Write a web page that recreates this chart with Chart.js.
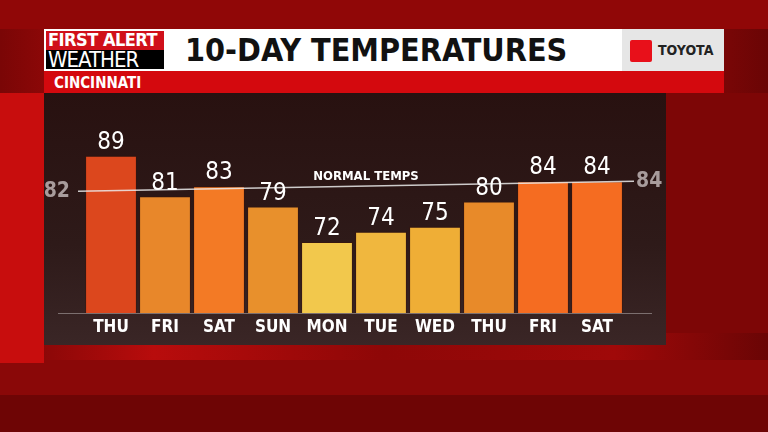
<!DOCTYPE html>
<html>
<head>
<meta charset="utf-8">
<script src="https://cdn.jsdelivr.net/npm/chart.js@4"></script>
<style>
  body { margin: 0; width: 768px; height: 432px; overflow: hidden; position: relative;
    background: linear-gradient(90deg, #7a0606 0%, #b80c0c 20%, #8e0707 50%, #a00909 80%, #6a0505 100%);
    font-family: 'Liberation Sans Narrow', 'DejaVu Sans Condensed', sans-serif; }
  .blk { position: absolute; }
  #header { position: absolute; left: 44px; top: 29px; width: 680px; height: 42px; background: #fff; }
  #logo { position: absolute; left: 2px; top: 2px; width: 118px; height: 38px; background: #000; color: #fff;
    font-weight: bold; line-height: 17px; }
  #logo .a { background: #d0101a; display: block; height: 19px; font-size: 18px; padding-left: 2px; letter-spacing: -0.5px; }
  #logo .b { display: block; font-size: 22px; padding-left: 2px; font-weight: normal; line-height: 20px; letter-spacing: -1px; }
  #title { position: absolute; left: 141px; top: 2px; font-size: 32px; font-weight: bold; color: #111; letter-spacing: 0px; }
  #toyota { position: absolute; right: 0; top: 0; width: 102px; height: 42px; background: #e6e6e6;
    font-size: 14px; font-weight: bold; color: #222; }
  #toyota .ic { position: absolute; left: 8px; top: 11px; width: 22px; height: 22px; background: #e8101a; border-radius: 2px; }
  #toyota .t { position: absolute; left: 36px; top: 13px; }
  #strip { position: absolute; left: 44px; top: 71px; width: 680px; height: 22px; background: #d4090e; color: #fff;
    font-size: 15px; font-weight: bold; }
  #strip span { position: absolute; left: 10px; top: 3px; }
  #panel { position: absolute; left: 44px; top: 93px; width: 622px; height: 252px;
    background: linear-gradient(180deg, #281110 0%, #2e1a19 60%, #3a2626 100%); }
  canvas { position: absolute; left: 0; top: 0; }
</style>
</head>
<body>
<div class="blk" style="left:0;top:360px;width:768px;height:72px;background:#8a0808"></div>
<div class="blk" style="left:0;top:395px;width:768px;height:37px;background:#6e0505"></div>
<div class="blk" style="left:0;top:0;width:768px;height:29px;background:#900707"></div>
<div class="blk" style="left:666px;top:93px;width:102px;height:240px;background:#7d0606"></div>
<div class="blk" style="left:0;top:93px;width:44px;height:270px;background:#c80d0d"></div>
<div id="header">
  <div id="logo"><span class="a">FIRST ALERT</span><span class="b">WEATHER</span></div>
  <div id="title">10-DAY TEMPERATURES</div>
  <div id="toyota"><div class="ic"></div><div class="t">TOYOTA</div></div>
</div>
<div id="strip"><span>CINCINNATI</span></div>
<div id="panel"><canvas id="c" width="622" height="252"></canvas></div>
<script>
const days = ['THU', 'FRI', 'SAT', 'SUN', 'MON', 'TUE', 'WED', 'THU', 'FRI', 'SAT'];
const highs = [89, 81, 83, 79, 72, 74, 75, 80, 84, 84];
const barColors = ['#dc471d', '#e8872a', '#f37a25', '#e8902c', '#f2c84c', '#f0b73e', '#efae36', '#e88a29', '#f56c21', '#f56c21'];
const normalStart = 82;
const normalEnd = 84;

const FONT = "'Liberation Sans Narrow', 'DejaVu Sans Condensed', sans-serif";

const overlay = {
  id: 'overlay',
  afterDatasetsDraw(chart) {
    const { ctx, chartArea } = chart;
    const y = chart.scales.y;
    const meta = chart.getDatasetMeta(0);
    ctx.save();
    // baseline
    ctx.strokeStyle = 'rgba(255,255,255,0.35)';
    ctx.lineWidth = 1;
    ctx.beginPath();
    ctx.moveTo(chartArea.left - 26, chartArea.bottom + 0.5);
    ctx.lineTo(chartArea.right + 28, chartArea.bottom + 0.5);
    ctx.stroke();
    // normal temps line
    const x0 = chartArea.left - 6, x1 = chartArea.right + 10;
    const y0 = y.getPixelForValue(normalStart), y1 = y.getPixelForValue(normalEnd);
    ctx.strokeStyle = 'rgba(235,235,235,0.85)';
    ctx.lineWidth = 1.5;
    ctx.beginPath();
    ctx.moveTo(x0, y0);
    ctx.lineTo(x1, y1);
    ctx.stroke();
    ctx.fillStyle = '#a89c9c';
    ctx.font = 'bold 21px ' + FONT;
    ctx.textBaseline = 'middle';
    ctx.textAlign = 'right';
    ctx.fillText(String(normalStart), x0 - 8, y0);
    ctx.textAlign = 'left';
    ctx.fillText(String(normalEnd), x1 + 2, y1);
    ctx.fillStyle = '#fff';
    ctx.font = 'bold 13px ' + FONT;
    ctx.textAlign = 'center';
    ctx.textBaseline = 'bottom';
    const mx = (x0 + x1) / 2 + 10;
    ctx.fillText('NORMAL TEMPS', mx, y0 + (y1 - y0) * ((mx - x0) / (x1 - x0)) - 3);
    // values
    ctx.font = '24px ' + FONT;
    ctx.textBaseline = 'bottom';
    meta.data.forEach((bar, i) => {
      ctx.fillText(String(highs[i]), bar.x, bar.y - 1);
    });
    ctx.restore();
  }
};

new Chart(document.getElementById('c'), {
  type: 'bar',
  data: {
    labels: days,
    datasets: [{
      data: highs,
      backgroundColor: barColors,
      borderColor: 'rgba(60,20,10,0.5)',
      borderWidth: 1,
      barPercentage: 0.96,
      categoryPercentage: 1
    }]
  },
  options: {
    responsive: false,
    animation: false,
    layout: { padding: { left: 40, right: 42, top: 7, bottom: 0 } },
    plugins: { legend: { display: false }, tooltip: { enabled: false } },
    scales: {
      x: {
        grid: { display: false },
        border: { display: false },
        ticks: { color: '#fff', font: { family: FONT, size: 17, weight: 'bold' }, padding: -4 },
        afterFit: s => { s.height = 32; }
      },
      y: {
        display: false,
        min: 58,
        max: 100
      }
    }
  },
  plugins: [overlay]
});
</script>
</body>
</html>
